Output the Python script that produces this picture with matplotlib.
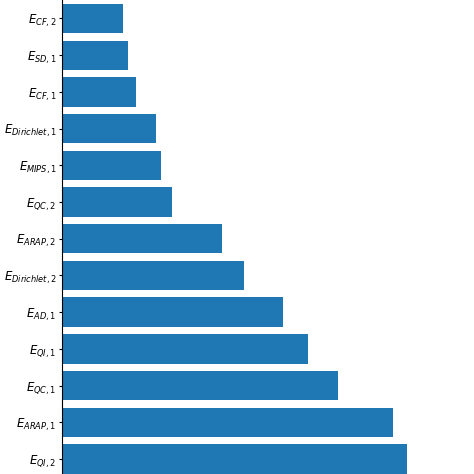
import matplotlib
matplotlib.use('Agg')
import matplotlib.pyplot as plt

# energy terms, top to bottom
labels = [r'$E_{CF,2}$', r'$E_{SD,1}$', r'$E_{CF,1}$', r'$E_{Dirichlet,1}$',
          r'$E_{MIPS,1}$', r'$E_{QC,2}$', r'$E_{ARAP,2}$', r'$E_{Dirichlet,2}$',
          r'$E_{AD,1}$', r'$E_{QI,1}$', r'$E_{QC,1}$', r'$E_{ARAP,1}$', r'$E_{QI,2}$']
values = [61, 66, 74, 94, 99, 110, 160, 182, 221, 246, 276, 331, 345]

fig = plt.figure(figsize=(4.74, 4.74), dpi=100)
ax = fig.add_axes([62 / 474, 0, 1 - 62 / 474, 1])

pos = list(range(len(labels)))
ax.barh(pos, values, height=0.8, color='#1f77b4')
ax.set_yticks(pos)
ax.set_yticklabels(labels, fontsize=8.5)
ax.tick_params(axis='y', length=2.5, pad=1.5)
ax.set_ylim(12.41, -0.504)
ax.set_xlim(0, 412)

for s in ['top', 'right', 'bottom']:
    ax.spines[s].set_visible(False)
ax.set_xticks([])

fig.savefig('out.png', dpi=100)
